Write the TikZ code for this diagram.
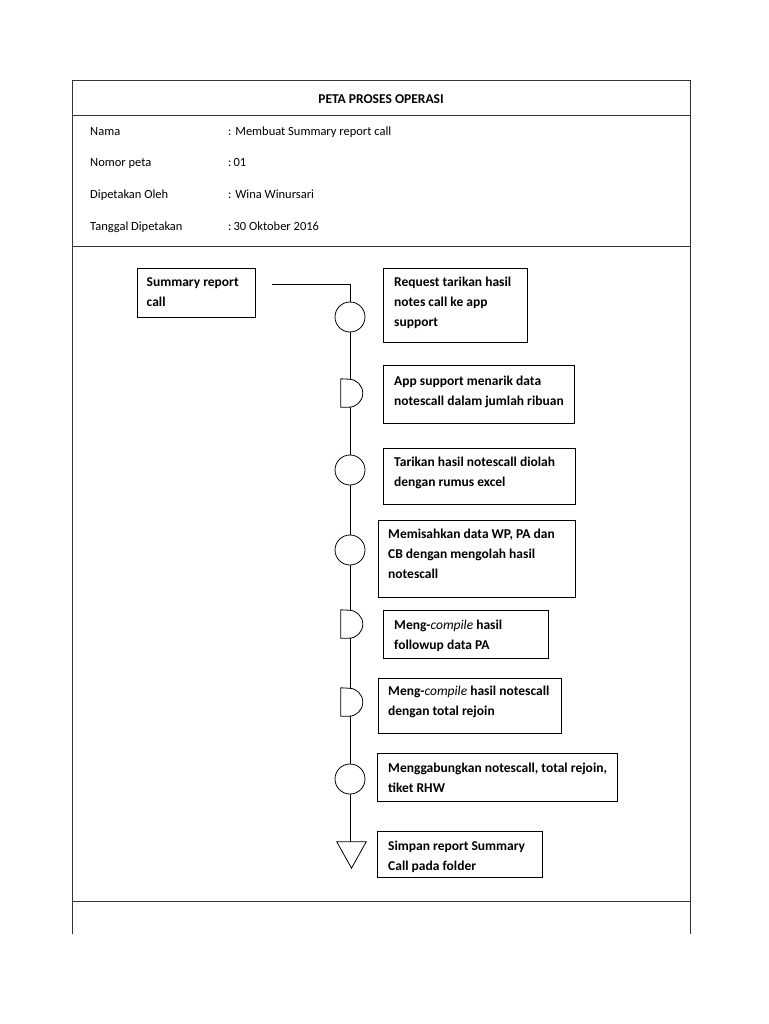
\documentclass[tikz,border=0pt]{standalone}
\usepackage{fontspec}
\setmainfont{Carlito}
\begin{document}
\begin{tikzpicture}[x=1pt,y=-1pt,
  frame/.style={line width=1pt, draw=black!80},
  box/.style={draw, line width=0.9pt, anchor=north west, inner sep=0, rectangle},
  txt/.style={anchor=north west, align=left, inner sep=0, font=\bfseries\fontsize{13.5}{20}\selectfont},
  hdr/.style={anchor=base west, inner sep=0, font=\fontsize{12.5}{14}\selectfont},
  proc/.style={circle, draw, minimum size=30pt, inner sep=0, fill=white, line width=0.8pt},
  holder/.style={rectangle, inner sep=0, minimum width=22pt, minimum height=28pt},
  flow/.style={line width=0.8pt},
  sym/.style={draw, line width=0.8pt, fill=white}
]
\useasboundingbox (0,0) rectangle (768,1024);
% frame
\draw[frame] (72,934) -- (72,81) -- (690,81) -- (690,934);
\draw[frame] (72,116) -- (690,116);
\draw[frame] (72,246) -- (690,246);
\draw[frame] (72,901) -- (690,901);
\node[font=\bfseries\fontsize{13.5}{15}\selectfont, anchor=base] (title) at (381,103.5) {PETA PROSES OPERASI};
% header
\node[hdr] (h1) at (90,135.5) {Nama};
\node[hdr] (v1) at (228,135.5) {: Membuat Summary report call};
\node[hdr] (h2) at (90,167) {Nomor peta};
\node[hdr] (v2) at (228,167) {:\,01};
\node[hdr] (h3) at (90,198.5) {Dipetakan Oleh};
\node[hdr] (v3) at (228,198.5) {: Wina Winursari};
\node[hdr] (h4) at (90,230) {Tanggal Dipetakan};
\node[hdr] (v4) at (228,230) {:\,30 Oktober 2016};
% start box
\node[box, minimum width=118pt, minimum height=49pt] (sbox) at (137,268) {};
\node[txt] (stxt) at (146.5,277.5) {Summary report\\call};
% boxes
\node[box, minimum width=144pt, minimum height=74pt] (b1) at (383,268) {};
\node[txt] (t1) at (394,277) {Request tarikan hasil\\notes call ke app\\support};
\node[box, minimum width=191pt, minimum height=58pt] (b2) at (383,365) {};
\node[txt] (t2) at (394,375.5) {App support menarik data\\notescall dalam jumlah ribuan};
\node[box, minimum width=192pt, minimum height=56pt] (b3) at (383,448) {};
\node[txt] (t3) at (394,457) {Tarikan hasil notescall diolah\\dengan rumus excel};
\node[box, minimum width=197pt, minimum height=77pt] (b4) at (378,520) {};
\node[txt] (t4) at (388,529) {Memisahkan data WP, PA dan\\CB dengan mengolah hasil\\notescall};
\node[box, minimum width=165pt, minimum height=48pt] (b5) at (383,610) {};
\node[txt] (t5) at (394,620) {Meng-\textit{\mdseries compile} hasil\\followup data PA};
\node[box, minimum width=183pt, minimum height=55pt] (b6) at (378,678) {};
\node[txt] (t6) at (388,686) {Meng-\textit{\mdseries compile} hasil notescall\\dengan total rejoin};
\node[box, minimum width=240pt, minimum height=48pt] (b7) at (377,753) {};
\node[txt] (t7) at (388,763) {Menggabungkan notescall, total rejoin,\\tiket RHW};
\node[box, minimum width=165pt, minimum height=46pt] (b8) at (377,831) {};
\node[txt] (t8) at (388,841) {Simpan report Summary\\Call pada folder};
% flow points
\coordinate (s0) at (272,284);
\coordinate (s1) at (350,284);
\node[holder] (d2) at (352,393) {};
\node[holder] (d5) at (352,624) {};
\node[holder] (d6) at (352,702) {};
\node[rectangle, inner sep=0, minimum width=29pt, minimum height=26pt] (tri) at (351.5,855) {};
% flow line
\draw[flow] (s0) -- (s1) -- (s1 |- tri.north);
% symbols
\node[proc] (c1) at (350,317) {};
\node[proc] (c3) at (350,470) {};
\node[proc] (c4) at (350,550) {};
\node[proc] (c7) at (350,779) {};
\foreach \d in {d2,d5,d6}{
  \draw[sym] (\d.south west) -- ++(8,0) arc[start angle=90, end angle=-90, radius=14] -- (\d.north west) -- cycle;
}
\draw[sym] (tri.north west) -- (tri.north east) -- (tri.south) -- cycle;
\end{tikzpicture}
\end{document}
